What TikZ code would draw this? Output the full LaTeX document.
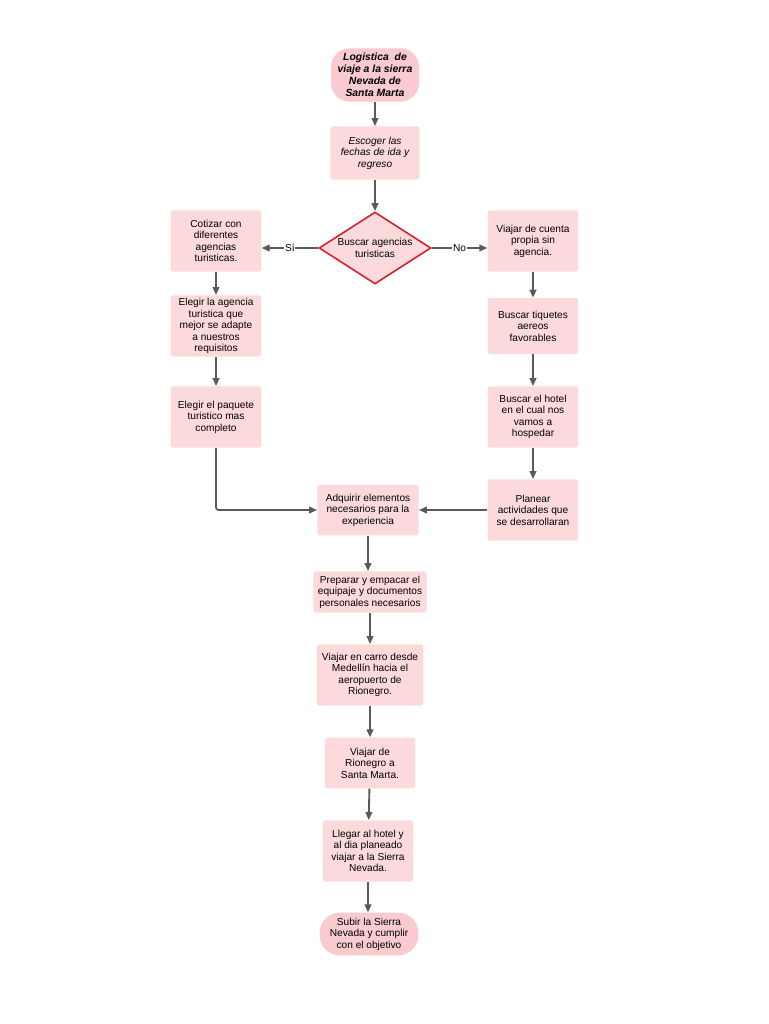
\documentclass[tikz,border=0pt]{standalone}
\usepackage{fontspec}
\setmainfont{Liberation Sans}
\usepackage{tikz}
\usetikzlibrary{arrows.meta}
\usetikzlibrary{calc}
\usetikzlibrary{shapes}
\definecolor{boxpink}{HTML}{FCDADC}
\definecolor{startpink}{HTML}{F9CACE}
\definecolor{decred}{HTML}{D2232A}
\definecolor{arrowgray}{HTML}{5A5A5A}

\begin{document}
\begin{tikzpicture}[x=0.75pt, y=-0.75pt, font=\fontsize{7.6pt}{8.6pt}\selectfont,
        box_style/.style={rectangle, rounded corners=2pt, fill=boxpink, draw=none, align=center, inner sep=0pt},
        term_style/.style={rectangle, rounded corners=14pt, fill=startpink, draw=none, align=center, inner sep=0pt},
        dec_style/.style={diamond, aspect=1.55, fill=boxpink, draw=decred, line width=1.2pt, align=center, inner sep=0pt},
        edge_style/.style={draw=arrowgray, line width=1.4pt, -{Triangle[length=6pt, width=5pt]}},
        label_style/.style={fill=white, inner sep=0.5pt, font=\fontsize{7.6pt}{8.6pt}\selectfont}]

        \useasboundingbox (0,0) rectangle (768,1024);

        \node [term_style, minimum width=66pt, minimum height=40pt, font=\fontsize{7.8pt}{9pt}\selectfont\bfseries\itshape](n1) at (375,75) {Logistica\ \ de\\viaje a la sierra\\Nevada de\\Santa Marta};

        \node [box_style, minimum width=67pt, minimum height=40pt, font=\fontsize{7.6pt}{8.6pt}\selectfont\itshape](n2) at (375,153) {Escoger las\\fechas de ida y\\regreso};

        \node [dec_style, minimum width=84pt, minimum height=54pt](n3) at (375,248) {Buscar agencias\\turisticas};

        \node [box_style, minimum width=68pt, minimum height=46pt](n4) at (216,241) {Cotizar con\\diferentes\\agencias\\turisticas.};

        \node [box_style, minimum width=68pt, minimum height=46pt](n5) at (216,326) {Elegir la agencia\\turistica que\\mejor se adapte\\a nuestros\\requisitos};

        \node [box_style, minimum width=68pt, minimum height=46pt](n6) at (216,417) {Elegir el paquete\\turistico mas\\completo};

        \node [box_style, minimum width=68pt, minimum height=46pt](n7) at (533,241) {Viajar de cuenta\\propia sin\\agencia.};

        \node [box_style, minimum width=68pt, minimum height=42pt](n8) at (533,326) {Buscar tiquetes\\aereos\\favorables};

        \node [box_style, minimum width=68pt, minimum height=46pt](n9) at (533,417) {Buscar el hotel\\en el cual nos\\vamos a\\hospedar};

        \node [box_style, minimum width=68pt, minimum height=46pt](n10) at (533,510) {Planear\\actividades que\\se desarrollaran};

        \node [box_style, minimum width=76pt, minimum height=38pt](n11) at (368,510) {Adquirir elementos\\necesarios para la\\experiencia};

        \node [box_style, minimum width=85pt, minimum height=31pt](n12) at (370,592) {Preparar y empacar el\\equipaje y documentos\\personales necesarios};

        \node [box_style, minimum width=80pt, minimum height=46pt](n13) at (370,675) {Viajar en carro desde\\Medellín hacia el\\aeropuerto de\\Rionegro.};

        \node [box_style, minimum width=68pt, minimum height=38pt](n14) at (370,763) {Viajar de\\Rionegro a\\Santa Marta.};

        \node [box_style, minimum width=68pt, minimum height=46pt](n15) at (368,851) {Llegar al hotel y\\al dia planeado\\viajar a la Sierra\\Nevada.};

        \node [term_style, minimum width=74pt, minimum height=32pt, rounded corners=15pt](n16) at (369,934) {Subir la Sierra\\Nevada y cumplir\\con el objetivo};

        \draw [edge_style] (n1) -- (n2);

        \draw [edge_style] (n2) -- (n3);

        \draw [edge_style] (n3.west) -- node[label_style]{Sí} (n3.west -| n4.east);

        \draw [edge_style] (n3.east) -- node[label_style]{No} (n3.east -| n7.west);

        \draw [edge_style] (n4) -- (n5);

        \draw [edge_style] (n5) -- (n6);

        \draw [edge_style] (n7) -- (n8);

        \draw [edge_style] (n8) -- (n9);

        \draw [edge_style] (n9) -- (n10);

        \draw [edge_style, rounded corners=2pt] (n6.south) |- (n11.west);

        \draw [edge_style] (n10) -- (n11);

        \draw [edge_style] (n11.south) -- (n11.south |- n12.north);

        \draw [edge_style] (n12) -- (n13);

        \draw [edge_style] (n13) -- (n14);

        \draw [edge_style] (n14) -- (n15);

        \draw [edge_style] (n15.south) -- (n15.south |- n16.north);

        \end{tikzpicture}
\end{document}
